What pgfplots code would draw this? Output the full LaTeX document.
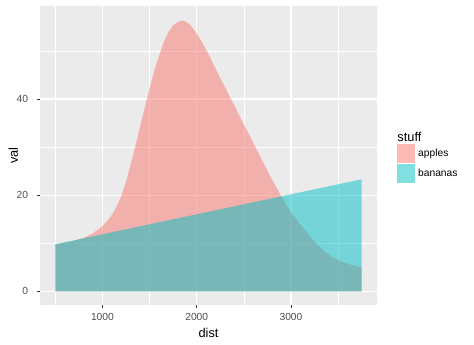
\documentclass[border=0pt]{standalone}
\usepackage{fontspec}
\setmainfont{Liberation Sans}
\usepackage{pgfplots}
\pgfplotsset{compat=1.18}
\definecolor{bgGray}{HTML}{EBEBEB}
\definecolor{tickGray}{HTML}{333333}
\definecolor{labGray}{HTML}{4D4D4D}
\definecolor{appleC}{HTML}{F8766D}
\definecolor{bananaC}{HTML}{00BFC4}
\begin{document}
\begin{tikzpicture}
\useasboundingbox (-30pt,-29.25pt) rectangle (325.5pt,228.75pt);
\begin{axis}[
  at={(0,0)}, anchor=south west,
  scale only axis, width=252.75pt, height=224.25pt,
  xmin=337.5, xmax=3912.5, ymin=-2.83, ymax=59.33,
  clip=false,
  axis background/.style={fill=bgGray},
  axis line style={draw=none},
  xtick={1000,2000,3000}, ytick={0,20,40},
  minor xtick={500,1500,2500,3500}, minor ytick={10,30,50},
  grid=both,
  major grid style={white, line width=0.85pt},
  minor grid style={white, line width=0.45pt},
  minor tick length=0pt,
  tick align=outside, major tick length=2.2pt,
  xtick pos=bottom, ytick pos=left,
  tick style={tickGray, line width=0.7pt},
  /pgf/number format/assume math mode=true,
  /pgf/number format/1000 sep={},
  ticklabel style={font=\fontsize{7.7}{9}\selectfont, text=labGray},
  xticklabel style={inner sep=0pt, anchor=north, yshift=-4.2pt},
  yticklabel style={inner sep=0pt, anchor=east, xshift=-6.6pt},
  xlabel={dist}, ylabel={val},
  label style={font=\fontsize{9.6}{11}\selectfont, text=black},
  xlabel style={at={(axis description cs:0.5,-0.0936)}, anchor=center, inner sep=0pt},
  ylabel style={at={(axis description cs:-0.079,0.5)}, anchor=center, inner sep=0pt, rotate=0},
  legend style={at={(rel axis cs:1.06,0.5385)}, anchor=north west, draw=none, fill=none,
    inner sep=0pt, row sep=1pt, font=\fontsize{7.7}{9}\selectfont,
    /tikz/every even column/.style={column sep=3pt}},
  legend cell align=left,
]
\addplot[draw=none, fill=appleC, fill opacity=0.5,
  legend image code/.code={\fill[appleC, fill opacity=0.5] (0pt,-7pt) rectangle (13.5pt,7pt);}]
coordinates {
(500,0) (500,9.8) (650,10.3) (800,11.1) (900,12.1) (950,12.8) (1000,13.6)
(1050,14.6) (1100,15.9) (1150,17.6) (1200,19.8) (1255,23.2) (1310,27.1)
(1362,31.2) (1400,34.3) (1450,38.3) (1500,42.2) (1550,45.8) (1600,49.0)
(1650,51.8) (1700,53.9) (1750,55.3) (1800,56.0) (1845,56.3) (1890,56.0)
(1940,55.2) (2000,53.6) (2060,51.7) (2135,48.9) (2210,45.9) (2277,43.3)
(2348,40.6) (2418,37.9) (2500,34.7) (2571,32.0) (2640,29.3) (2713,26.5)
(2800,23.2) (2870,20.7) (2950,18.0) (3000,16.5) (3080,14.4) (3167,12.3)
(3250,10.3) (3345,8.5) (3430,7.2) (3523,6.3) (3640,5.5) (3750,5.0) (3750,0)
} \closedcycle;
\addlegendentry{apples}
\addplot[draw=none, fill=bananaC, fill opacity=0.5,
  legend image code/.code={\fill[bananaC, fill opacity=0.5] (0pt,-7pt) rectangle (13.5pt,7pt);}]
coordinates {
(500,0) (500,9.8) (3750,23.3) (3750,0)
} \closedcycle;
\addlegendentry{bananas}
\node[anchor=base west, inner sep=0pt, font=\fontsize{9.6}{11}\selectfont] at (rel axis cs:1.06,0.546) {stuff};
\end{axis}
\end{tikzpicture}
\end{document}
